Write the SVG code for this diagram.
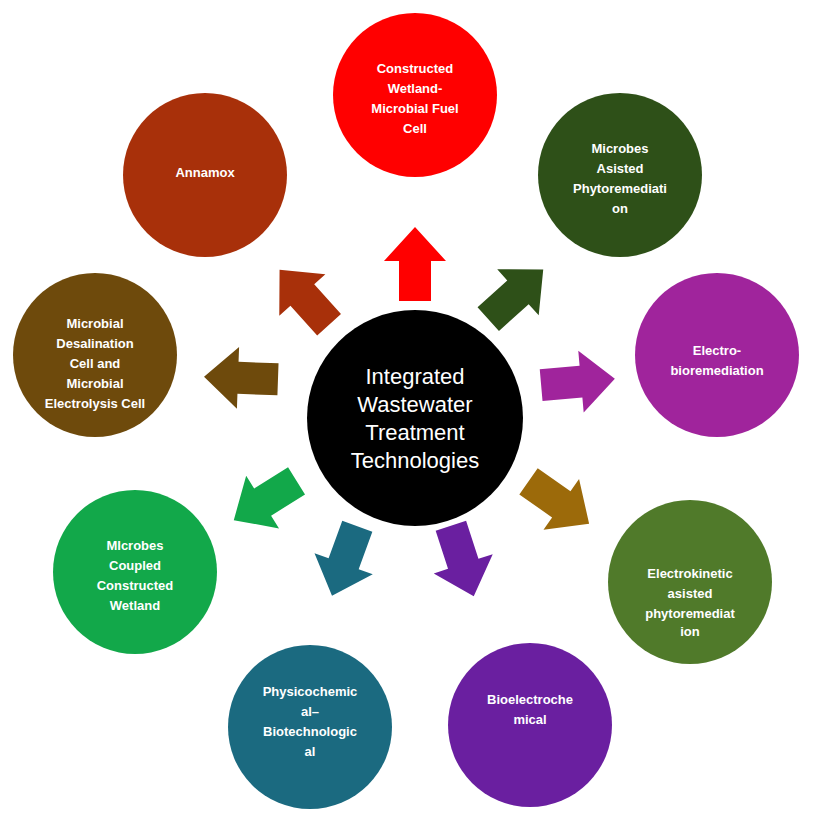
<svg xmlns="http://www.w3.org/2000/svg" width="829" height="816" viewBox="0 0 829 816">
<defs>
<polygon id="arr" points="-36,-16 4,-16 4,-31 38,0 4,31 4,16 -36,16"/>
</defs>
<style>
text{font-family:"Liberation Sans",Arial,sans-serif;fill:#fff;font-size:13px;font-weight:bold;text-anchor:middle}
.big{font-size:22px;font-weight:normal}
</style>
<rect width="829" height="816" fill="#fff"/>
<g id="connectors">
<use href="#arr" fill="#FF0000" transform="translate(415,265) rotate(-90)"/>
<use href="#arr" fill="#2E5018" transform="translate(515,295) rotate(-42)"/>
<use href="#arr" fill="#A0249C" transform="translate(577,382) rotate(-5)"/>
<use href="#arr" fill="#9C6A0A" transform="translate(558,502) rotate(35)"/>
<use href="#arr" fill="#6A1FA0" transform="translate(462,560) rotate(72)"/>
<use href="#arr" fill="#1B6A80" transform="translate(345,560) rotate(110)"/>
<use href="#arr" fill="#12A84A" transform="translate(266,500) rotate(148)"/>
<use href="#arr" fill="#6E4A0C" transform="translate(242,378) rotate(182)"/>
<use href="#arr" fill="#A8300A" transform="translate(305,298) rotate(-132)"/>
</g>
<g id="center"><circle cx="415" cy="418" r="108" fill="#000"/>
<text class="big" x="415" y="384">Integrated</text><text class="big" x="415" y="412">Wastewater</text><text class="big" x="415" y="440">Treatment</text><text class="big" x="415" y="468">Technologies</text></g>
<g id="n1"><circle cx="415" cy="95" r="82" fill="#FF0000"/><text x="415" y="73">Constructed</text><text x="415" y="93">Wetland-</text><text x="415" y="113">Microbial Fuel</text><text x="415" y="133">Cell</text></g>
<g id="n2"><circle cx="620" cy="175" r="82" fill="#2E5018"/><text x="620" y="153">Microbes</text><text x="620" y="173">Asisted</text><text x="620" y="193">Phytoremediati</text><text x="620" y="213">on</text></g>
<g id="n3"><circle cx="717" cy="355" r="82" fill="#A0249C"/><text x="717" y="355">Electro-</text><text x="717" y="375">bioremediation</text></g>
<g id="n4"><circle cx="690" cy="582" r="82" fill="#507A2A"/><text x="690" y="578">Electrokinetic</text><text x="690" y="598">asisted</text><text x="690" y="618">phytoremediat</text><text x="690" y="636">ion</text></g>
<g id="n5"><circle cx="530" cy="725" r="82" fill="#6A1FA0"/><text x="530" y="704">Bioelectroche</text><text x="530" y="724">mical</text></g>
<g id="n6"><circle cx="310" cy="727" r="82" fill="#1B6A80"/><text x="310" y="696">Physicochemic</text><text x="310" y="716">al–</text><text x="310" y="736">Biotechnologic</text><text x="310" y="756">al</text></g>
<g id="n7"><circle cx="135" cy="572" r="82" fill="#12A84A"/><text x="135" y="550">MIcrobes</text><text x="135" y="570">Coupled</text><text x="135" y="590">Constructed</text><text x="135" y="610">Wetland</text></g>
<g id="n8"><circle cx="95" cy="355" r="82" fill="#6E4A0C"/><text x="95" y="328">Microbial</text><text x="95" y="348">Desalination</text><text x="95" y="368">Cell and</text><text x="95" y="388">Microbial</text><text x="95" y="408">Electrolysis Cell</text></g>
<g id="n9"><circle cx="205" cy="175" r="82" fill="#A8300A"/><text x="205" y="177">Annamox</text></g>
</svg>
